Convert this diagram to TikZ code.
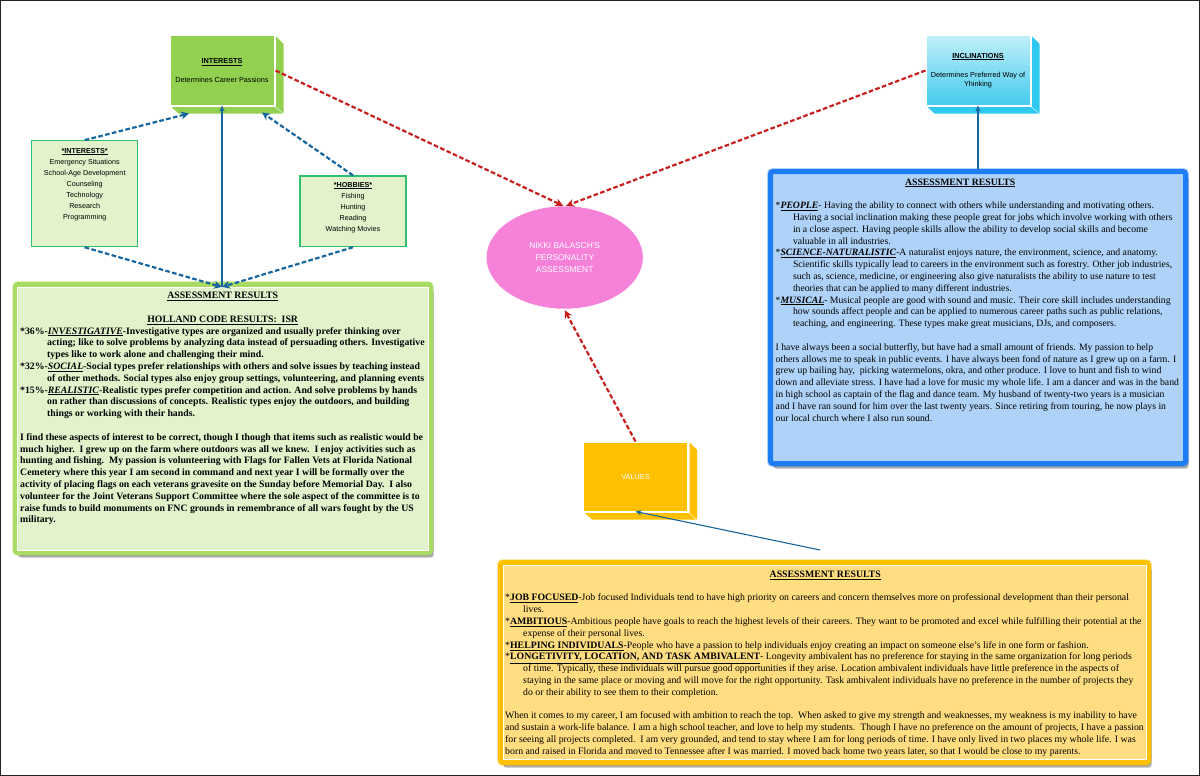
\documentclass[tikz,border=0pt]{standalone}
\usepackage{fontspec}
\setmainfont{Liberation Serif}
\newfontfamily\arialf{Liberation Sans}
\usetikzlibrary{arrows.meta,calc,shapes.geometric,shadows}
\definecolor{frameC}{HTML}{222222}
\definecolor{grn}{HTML}{92D050}
\definecolor{grnL}{HTML}{E2F3CB}
\definecolor{grnB}{HTML}{A9DA62}
\definecolor{mint}{HTML}{2FBF71}
\definecolor{cyanS}{HTML}{2FC8EE}
\definecolor{cyanT}{HTML}{BFEFF9}
\definecolor{cyanB}{HTML}{45CBEF}
\definecolor{gold}{HTML}{FFC000}
\definecolor{goldL}{HTML}{FFDD80}
\definecolor{bluB}{HTML}{1E7DF5}
\definecolor{bluL}{HTML}{AFD2F8}
\definecolor{pinkE}{HTML}{F681D9}
\definecolor{redC}{HTML}{C8201F}
\definecolor{bluC}{HTML}{16659F}
\newcommand\blk{\mbox{}}
\newcommand\st{{*}}
\newcommand\hgL{\hspace*{27pt}}
\newcommand\hgB{\hspace*{17.3pt}}
\newcommand\hgY{\hspace*{18pt}}
\tikzset{
  x=1pt,y=-1pt,
  cubefront/.style={minimum width=104pt,minimum height=69pt,inner sep=1pt,draw=white,line width=1pt,align=center,
     font=\arialf\fontsize{7.3}{9.5}\selectfont},
  chip/.style={draw=mint,line width=1.2pt,fill=grnL,inner sep=0pt,minimum width=106pt},
  chiptext/.style={anchor=north,align=center,inner sep=0pt,font=\arialf\fontsize{7.2}{11}\selectfont},
  panel/.style={rounded corners=2.5pt,inner sep=0pt,line width=5pt,draw=#1,
     preaction={draw=#1,line width=7pt,draw opacity=.35},
     drop shadow={shadow xshift=3pt,shadow yshift=-5pt,fill=black,opacity=.3}},
  paneltext/.style={anchor=north west,align=left,inner sep=0pt},
  reddash/.style={draw=redC,line width=2.2pt,dash pattern=on 4.6pt off 2.4pt,-{Stealth[length=8pt,width=8pt]}},
  bluedash/.style={draw=bluC,line width=2.2pt,dash pattern=on 4.6pt off 2.4pt,-{Stealth[length=8pt,width=8pt]}},
  bluesolid/.style={draw=bluC,line width=1.1pt,-{Stealth[length=6pt,width=5pt]}},
}
\newcommand\cubesides[2]{%
  \fill[#2] ($(#1.north east)+(1.5,1)$) -- ++(7.5,7.5) -- ($(#1.south east)+(9,8)$) -- ($(#1.south east)+(1.5,1.5)$) -- cycle;
  \fill[#2] ($(#1.south west)+(2,1.5)$) -- ($(#1.south east)+(0.5,1.5)$) -- ($(#1.south east)+(8,8)$) -- ($(#1.south west)+(9,8)$) -- cycle;}
\begin{document}
\begin{tikzpicture}
\useasboundingbox (0,0) rectangle (1200,776);
\draw[frameC,line width=1.2pt] (0.6,0.6) rectangle (1199.2,775.4);

% cubes
\node[cubefront,fill=grn] (cInt) at (222,70.5) {\textbf{\underline{INTERESTS}}\\ \blk\\ Determines Career Passions};
\cubesides{cInt}{grn}
\node[cubefront,top color=cyanT,bottom color=cyanB] (cInc) at (978,70.5) {\textbf{\underline{INCLINATIONS}}\\ \blk\\ Determines Preferred Way of\\ Yhinking};
\cubesides{cInc}{cyanS}
\node[cubefront,fill=gold,text=white] (cVal) at (635.5,476.5) {VALUES};
\cubesides{cVal}{gold}

% ellipse
\node[ellipse,fill=pinkE,draw=white,line width=.5pt,minimum width=157pt,minimum height=103pt,inner sep=0pt,align=center,text=white,
  font=\arialf\fontsize{8.4}{11.7}\selectfont] (core) at (564.7,257.5) {NIKKI BALASCH'S\\ PERSONALITY\\ ASSESSMENT};

% small boxes
\node[chip,minimum height=106pt] (sInt) at (84.7,193.7) {};
\node[chiptext] (sIntT) at (84.7,148) {\textbf{\underline{*INTERESTS*}}\\ Emergency Situations\\ School-Age Development\\ Counseling\\ Technology\\ Research\\ Programming};
\node[chip,minimum height=70.7pt] (sHob) at (353,211.3) {};
\node[chiptext] (sHobT) at (353,182) {\textbf{\underline{*HOBBIES*}}\\ Fishing\\ Hunting\\ Reading\\ Watching Movies};

% panels
\node[panel=grnB,fill=grnL,minimum width=415pt,minimum height=268pt] (pL) at (223,418.5) {};
\draw[white,line width=1pt] ($(pL.north west)+(4.5,5.5)$) rectangle ($(pL.south east)+(-4.5,-5)$);
\node[panel=bluB,fill=bluL,minimum width=415pt,minimum height=292pt] (pB) at (978,317.5) {};
\node[panel=gold,fill=goldL,minimum width=648pt,minimum height=200pt] (pY) at (824.5,662.5) {};
\draw[white,line width=1pt] ($(pY.north west)+(5,5.5)$) rectangle ($(pY.south east)+(-5,-5.5)$);

\node[paneltext,font=\fontsize{9.78}{11.8}\selectfont\bfseries] (pLT) at (20,292) {%
\makebox[405pt][c]{\underline{ASSESSMENT RESULTS}}\\ \blk\\
\makebox[405pt][c]{\underline{HOLLAND CODE RESULTS:\ \ ISR}}\\
\st 36\%-\underline{\textit{INVESTIGATIVE}}-Investigative types are organized and usually prefer thinking over\\
\hgL acting; like to solve problems by analyzing data instead of persuading others. Investigative\\
\hgL types like to work alone and challenging their mind.\\
\st 32\%-\underline{\textit{SOCIAL}}-Social types prefer relationships with others and solve issues by teaching instead\\
\hgL of other methods. Social types also enjoy group settings, volunteering, and planning events\\
\st 15\%-\underline{\textit{REALISTIC}}-Realistic types prefer competition and action. And solve problems by hands\\
\hgL on rather than discussions of concepts. Realistic types enjoy the outdoors, and building\\
\hgL things or working with their hands.\\ \blk\\
I find these aspects of interest to be correct, though I though that items such as realistic would be\\
much higher.\ \ I grew up on the farm where outdoors was all we knew.\ \ I enjoy activities such as\\
hunting and fishing.\ \ My passion is volunteering with Flags for Fallen Vets at Florida National\\
Cemetery where this year I am second in command and next year I will be formally over the\\
activity of placing flags on each veterans gravesite on the Sunday before Memorial Day.\ \ I also\\
volunteer for the Joint Veterans Support Committee where the sole aspect of the committee is to\\
raise funds to build monuments on FNC grounds in remembrance of all wars fought by the US\\
military.};

\node[paneltext,font=\fontsize{9.72}{11.8}\selectfont] (pBT) at (775.5,178.5) {%
\makebox[369pt][c]{\textbf{\underline{ASSESSMENT RESULTS}}}\\ \blk\\
\st\textbf{\underline{\textit{PEOPLE}}}- Having the ability to connect with others while understanding and motivating others.\\
\hgB Having a social inclination making these people great for jobs which involve working with others\\
\hgB in a close aspect. Having people skills allow the ability to develop social skills and become\\
\hgB valuable in all industries.\\
\st\textbf{\underline{\textit{SCIENCE-NATURALISTIC}}}-A naturalist enjoys nature, the environment, science, and anatomy.\\
\hgB Scientific skills typically lead to careers in the environment such as forestry. Other job industries,\\
\hgB such as, science, medicine, or engineering also give naturalists the ability to use nature to test\\
\hgB theories that can be applied to many different industries.\\
\st\textbf{\underline{\textit{MUSICAL}}}- Musical people are good with sound and music. Their core skill includes understanding\\
\hgB how sounds affect people and can be applied to numerous career paths such as public relations,\\
\hgB teaching, and engineering. These types make great musicians, DJs, and composers.\\ \blk\\
I have always been a social butterfly, but have had a small amount of friends. My passion to help\\
others allows me to speak in public events. I have always been fond of nature as I grew up on a farm. I\\
grew up bailing hay,\ \ picking watermelons, okra, and other produce. I love to hunt and fish to wind\\
down and alleviate stress. I have had a love for music my whole life. I am a dancer and was in the band\\
in high school as captain of the flag and dance team. My husband of twenty-two years is a musician\\
and I have ran sound for him over the last twenty years. Since retiring from touring, he now plays in\\
our local church where I also run sound.};

\node[paneltext,font=\fontsize{9.8}{11.8}\selectfont] (pYT) at (505,570.7) {%
\makebox[640pt][c]{\textbf{\underline{ASSESSMENT RESULTS}}}\\ \blk\\
\st\textbf{\underline{JOB FOCUSED}}-Job focused Individuals tend to have high priority on careers and concern themselves more on professional development than their personal\\
\hgY lives.\\
\st\textbf{\underline{AMBITIOUS}}-Ambitious people have goals to reach the highest levels of their careers. They want to be promoted and excel while fulfilling their potential at the\\
\hgY expense of their personal lives.\\
\st\textbf{\underline{HELPING INDIVIDUALS}}-People who have a passion to help individuals enjoy creating an impact on someone else's life in one form or fashion.\\
\st\textbf{\underline{LONGETIVITY, LOCATION, AND TASK AMBIVALENT}}- Longevity ambivalent has no preference for staying in the same organization for long periods\\
\hgY of time. Typically, these individuals will pursue good opportunities if they arise. Location ambivalent individuals have little preference in the aspects of\\
\hgY staying in the same place or moving and will move for the right opportunity. Task ambivalent individuals have no preference in the number of projects they\\
\hgY do or their ability to see them to their completion.\\ \blk\\
When it comes to my career, I am focused with ambition to reach the top.\ \ When asked to give my strength and weaknesses, my weakness is my inability to have\\
and sustain a work-life balance. I am a high school teacher, and love to help my students.\ \ Though I have no preference on the amount of projects, I have a passion\\
for seeing all projects completed.\ \ I am very grounded, and tend to stay where I am for long periods of time. I have only lived in two places my whole life. I was\\
born and raised in Florida and moved to Tennessee after I was married. I moved back home two years later, so that I would be close to my parents.};

% connectors
\draw[reddash] ($(cInt.east)+(1,0)$) -- ($(core.north)+(-1.5,0)$);
\draw[reddash] (cInc.west) -- ($(core.north)+(1.5,0)$);
\draw[reddash] (cVal.north) -- ($(core.south)+(0,1)$);
\draw[bluedash] (sInt.north) -- ($(cInt.south)+(-33,8)$);
\draw[bluedash] (sHob.north) -- ($(cInt.south)+(40,7)$);
\draw[bluedash] (sInt.south) -- ($(pL.north)+(-1,5)$);
\draw[bluedash] (sHob.south) -- ($(pL.north)+(-1,5)$);
\draw[bluesolid] ($(pL.north)+(-1,5)$) -- (cInt.south);
\draw[bluesolid] (pB.north) -- (cInc.south);
\coordinate (yFree) at (820,550);
\draw[bluesolid] (yFree) -- (cVal.south);
\end{tikzpicture}
\end{document}
